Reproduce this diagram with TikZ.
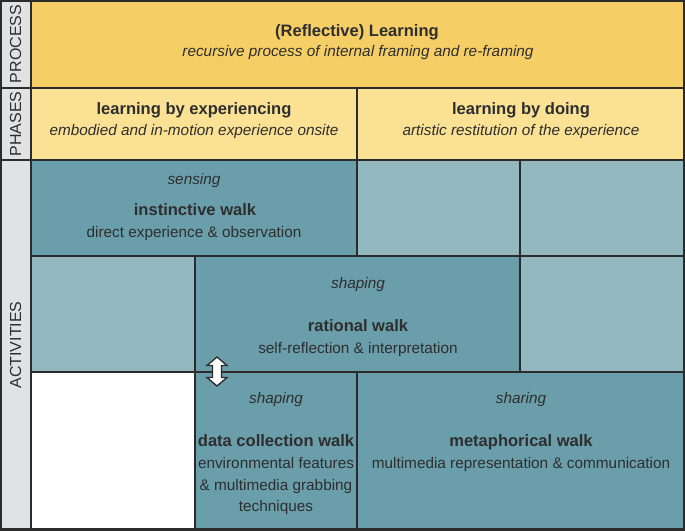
\documentclass[tikz,border=0pt]{standalone}
\usepackage{fontspec}
\setmainfont{Liberation Sans}
\definecolor{procY}{HTML}{F6CE66}
\definecolor{phaseY}{HTML}{FBE194}
\definecolor{tealD}{HTML}{6A9EAB}
\definecolor{tealL}{HTML}{93B8C0}
\definecolor{labG}{HTML}{E1E2E4}
\definecolor{lineC}{HTML}{2B2B2B}
\definecolor{txtC}{HTML}{2E2E2E}
\tikzset{
  cell/.style={draw=lineC, line width=1.35pt},
  ttl/.style={font=\fontsize{12.4}{14}\selectfont\bfseries, text=txtC, inner sep=0pt, anchor=base},
  sub/.style={font=\fontsize{11.5}{12}\selectfont\itshape, text=txtC, inner sep=0pt, anchor=base},
  body/.style={font=\fontsize{11.5}{12}\selectfont, text=txtC, inner sep=0pt, anchor=base},
  side/.style={font=\fontsize{12}{14}\selectfont, text=txtC, rotate=90, inner sep=0pt},
}
\begin{document}
\begin{tikzpicture}[x=0.75pt,y=-0.75pt]
\useasboundingbox (0,0) rectangle (685,531);
% left labels
\fill[labG] (0,0) rectangle (31,531);
% process
\fill[procY] (31,0) rectangle (685,88);
\fill[phaseY] (31,88) rectangle (685,160);
% activities row 1
\fill[tealD] (31,160) rectangle (357,256);
\fill[tealL] (357,160) rectangle (685,256);
% row 2
\fill[tealL] (31,256) rectangle (195,372);
\fill[tealD] (195,256) rectangle (520,372);
\fill[tealL] (520,256) rectangle (685,372);
% row 3
\fill[white] (31,372) rectangle (195,531);
\fill[tealD] (195,372) rectangle (685,531);
% grid lines
\draw[cell] (0.7,0.7) rectangle (684.3,530);
\draw[cell] (31,0) -- (31,531);
\draw[cell] (0,88) -- (685,88);
\draw[cell] (0,160) -- (685,160);
\draw[cell] (357,88) -- (357,256);
\draw[cell] (520,160) -- (520,256);
\draw[cell] (31,256) -- (685,256);
\draw[cell] (195,256) -- (195,531);
\draw[cell] (520,256) -- (520,372);
\draw[cell] (31,372) -- (685,372);
\draw[cell] (357,372) -- (357,531);
\draw[lineC, line width=2.2pt] (0,529.8) -- (685,529.8);
% side labels
\node[side] (lproc) at (15.5,44) {PROCESS};
\node[side] (lphase) at (15.5,124) {PHASES};
\node[side] (lact) at (15.5,345) {ACTIVITIES};
% process text
\node[ttl] (proct) at (357,36.5) {(Reflective) Learning};
\node[sub] (procs) at (358,56.5) {recursive process of internal framing and re-framing};
% phases
\node[ttl] (ph1t) at (194,114.5) {learning by experiencing};
\node[sub] (ph1s) at (194,136) {embodied and in-motion experience onsite};
\node[ttl] (ph2t) at (521,114.5) {learning by doing};
\node[sub] (ph2s) at (521,136) {artistic restitution of the experience};
% row 1
\node[sub] (a1s) at (194,185) {sensing};
\node[ttl] (a1t) at (195,215) {instinctive walk};
\node[body] (a1b) at (194,237) {direct experience \& observation};
% row 2
\node[sub] (a2s) at (358,288) {shaping};
\node[ttl] (a2t) at (358,331) {rational walk};
\node[body] (a2b) at (358,353) {self-reflection \& interpretation};
% row 3 left
\node[sub] (a3s) at (276,403) {shaping};
\node[ttl] (a3t) at (276,446) {data collection walk};
\node[body] (a3b1) at (276,468) {environmental features};
\node[body] (a3b2) at (276,490) {\& multimedia grabbing};
\node[body] (a3b3) at (276,511) {techniques};
% row 3 right
\node[sub] (a4s) at (521,403) {sharing};
\node[ttl] (a4t) at (521,446) {metaphorical walk};
\node[body] (a4b) at (521,468) {multimedia representation \& communication};
% double arrow
\draw[draw=lineC, fill=white, line width=1pt, line join=miter]
  (217,357) -- (227,365.5) -- (221.5,365.5) -- (221.5,377.5) -- (227,377.5) -- (217,386)
  -- (207,377.5) -- (212.5,377.5) -- (212.5,365.5) -- (207,365.5) -- cycle;
\end{tikzpicture}
\end{document}
